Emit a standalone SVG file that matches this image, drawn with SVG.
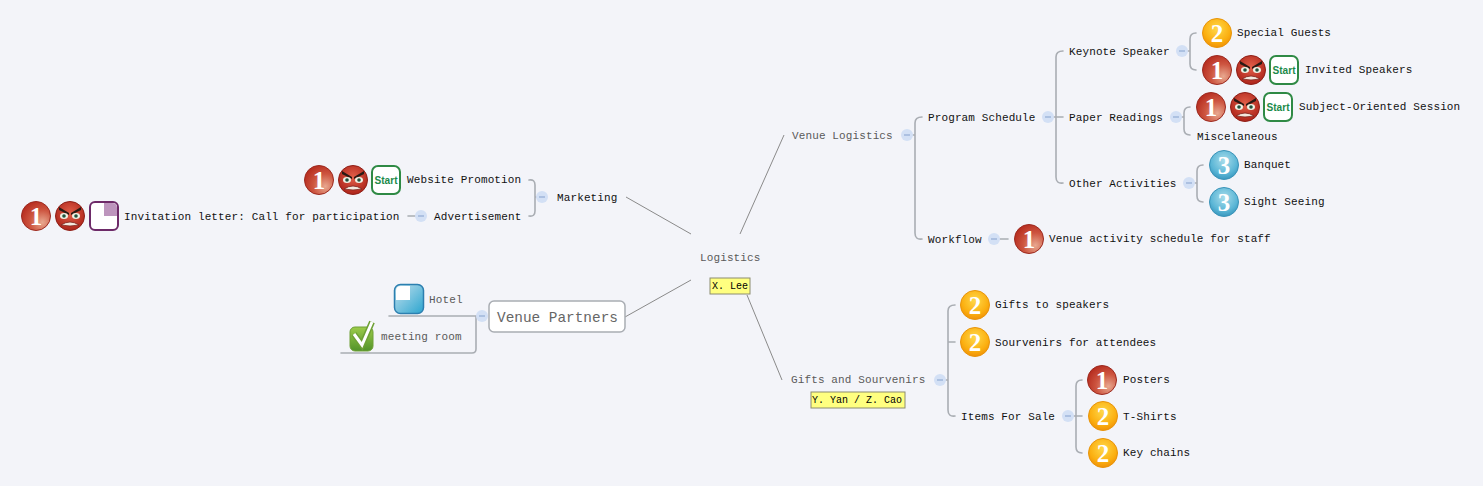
<svg xmlns="http://www.w3.org/2000/svg" width="1483" height="486" viewBox="0 0 1483 486">
<style>
text{font-family:"Liberation Mono","DejaVu Sans Mono",monospace;font-size:11px;letter-spacing:.12px;fill:#111}
.g{fill:#5a5a5a}
.big{font-size:14.4px;fill:#666;letter-spacing:0}
.sm{font-size:10px;letter-spacing:0;fill:#000}
.ln{fill:none;stroke:#a9adb3;stroke-width:1.6;stroke-linecap:round}
.th{fill:none;stroke:#8a8a8a;stroke-width:1}
.nt{fill:#ffff80;stroke:#8c8c70;stroke-width:1}
.num{font-family:"Liberation Serif",serif;font-weight:bold;font-size:25px;letter-spacing:0;fill:#fff;text-anchor:middle}
.st{font-family:"Liberation Sans",sans-serif;font-weight:bold;font-size:11px;letter-spacing:0;fill:#1d8a4a;text-anchor:middle}
</style>
<defs>
<radialGradient id="r1" cx=".72" cy=".72" r=".85"><stop offset="0" stop-color="#e8a88f"/><stop offset=".5" stop-color="#cd5540"/><stop offset="1" stop-color="#b3261a"/></radialGradient>
<radialGradient id="r2" cx=".5" cy=".35" r=".7"><stop offset="0" stop-color="#ffd84a"/><stop offset=".65" stop-color="#fbaf10"/><stop offset="1" stop-color="#ee8a05"/></radialGradient>
<radialGradient id="r3" cx=".5" cy=".35" r=".7"><stop offset="0" stop-color="#a8dcea"/><stop offset=".65" stop-color="#5bb6d6"/><stop offset="1" stop-color="#2f8fb8"/></radialGradient>
<radialGradient id="rA" cx=".5" cy=".4" r=".65"><stop offset="0" stop-color="#e2604a"/><stop offset="1" stop-color="#a91f16"/></radialGradient>
<linearGradient id="qb" x1="0" y1="0" x2="1" y2="1"><stop offset="0" stop-color="#c5e1ee"/><stop offset="1" stop-color="#2ba5cf"/></linearGradient>
<linearGradient id="cg" x1="0" y1="0" x2="0" y2="1"><stop offset="0" stop-color="#9ccb4a"/><stop offset="1" stop-color="#52932a"/></linearGradient>
<g id="c1"><circle r="14.5" fill="url(#r1)" stroke="#9c2a20"/></g>
<g id="c2"><circle r="14.5" fill="url(#r2)" stroke="#e8940a"/></g>
<g id="c3"><circle r="14.5" fill="url(#r3)" stroke="#3a93b8"/></g>
<g id="angry">
<circle r="14.5" fill="url(#rA)" stroke="#8f2018"/>
<path d="M-11-9 L-1-3 L-1-1 L-11-6Z M11-9 L1-3 L1-1 L11-6Z" fill="#2a1a14"/>
<ellipse cx="-6" cy="0" rx="4" ry="3" fill="#eef3e6"/><ellipse cx="6" cy="0" rx="4" ry="3" fill="#eef3e6"/>
<circle cx="-6" cy="0" r="1.8" fill="#20523e"/><circle cx="6" cy="0" r="1.8" fill="#20523e"/>
<path d="M-9 9 Q0 3 9 9 Q0 11-9 9Z" fill="#f3e9df" stroke="#7a2018" stroke-width=".8"/>
</g>
<g id="start"><rect x="-14" y="-14" width="28" height="28" rx="6" fill="#fff" stroke="#2f8a45" stroke-width="2"/><text class="st" y="4" textLength="23" lengthAdjust="spacingAndGlyphs">Start</text></g>
<g id="note"><rect x="-14" y="-14" width="28" height="28" rx="5" fill="#fff" stroke="#6d2a68" stroke-width="2"/><path d="M0-13 H8 Q13-13 13-8 V0 H0Z" fill="#bd95bd"/></g>
<g id="quarter"><rect x="-14.500" y="-14.500" width="29" height="29" rx="6" fill="url(#qb)" stroke="#2c7fb0" stroke-width="1.500"/><path d="M-13-8 Q-13-13-8-13 H1 V1 H-13Z" fill="#fff"/></g>
<g id="check"><rect x="-11" y="-10" width="23" height="24" rx="5" fill="url(#cg)" stroke="#6ea036"/><path d="M-7-3 L1 8 L11-15" fill="none" stroke="#6ea036" stroke-width="6"/><path d="M-7-3 L1 8 L11-15" fill="none" stroke="#fff" stroke-width="3"/></g>
<g id="tg"><circle r="6" fill="#d3e0f5"/><path d="M-3 0 H3" stroke="#93abd4" stroke-width="1.200"/></g>
</defs>
<rect width="1483" height="486" fill="#f3f4f9"/>
<g id="connectors">
<path class="th" d="M626 197 L691 234 M740 234 L784 135 M625 317 L691 280 M747 295 L782 380"/>
<path class="ln" d="M529 180 Q535 179 535 185 V211 Q535 217 529 216 M535 197 H542"/>
<path class="ln" d="M408 216 H421"/>
<path class="ln" d="M389 316 H476 M341 353 H472 Q476 353 476 349 V316 H482"/>
<path class="ln" d="M922 117 Q915 117 915 123 V233 Q915 240 922 239 M907 135 H915"/>
<path class="ln" d="M1048 117 H1063 M1063 51 Q1056 51 1056 57 V177 Q1056 184 1063 183"/>
<path class="ln" d="M1196 33 Q1190 33 1190 39 V64 Q1190 70 1196 70 M1182 51 H1190"/>
<path class="ln" d="M1190 107 Q1184 107 1184 113 V129 Q1184 135 1190 135 M1176 117 H1184"/>
<path class="ln" d="M1203 165 Q1197 165 1197 171 V196 Q1197 202 1203 202 M1189 183 H1197"/>
<path class="ln" d="M994 239 H1008"/>
<path class="ln" d="M955 305 Q948 305 948 311 V410 Q948 417 955 416 M948 342 H955 M940 380 H948"/>
<path class="ln" d="M1082 380 Q1076 380 1076 386 V447 Q1076 453 1082 453 M1068 416 H1082"/>
<g id="toggles">
<use href="#tg" x="542" y="197"/><use href="#tg" x="421" y="216"/><use href="#tg" x="482" y="316"/>
<use href="#tg" x="907" y="135"/><use href="#tg" x="1048" y="117"/><use href="#tg" x="1182" y="51"/>
<use href="#tg" x="1176" y="117"/><use href="#tg" x="1189" y="183"/><use href="#tg" x="994" y="239"/>
<use href="#tg" x="940" y="380"/><use href="#tg" x="1068" y="416"/>
</g>
</g>
<g id="n-root"><text class="g" x="700" y="261">Logistics</text><rect class="nt" x="710" y="278" width="40" height="16"/><text class="sm" x="712" y="289">X. Lee</text></g>
<g id="n-marketing"><text x="557" y="201">Marketing</text></g>
<g id="n-website"><use href="#c1" x="319" y="180"/><text class="num" x="319" y="189">1</text><use href="#angry" x="353" y="180"/><use href="#start" x="386" y="180"/><text x="407" y="183">Website Promotion</text></g>
<g id="n-advert"><text x="434" y="220">Advertisement</text></g>
<g id="n-invite"><use href="#c1" x="36" y="216"/><text class="num" x="36" y="225">1</text><use href="#angry" x="70" y="216"/><use href="#note" x="104" y="216"/><text x="124" y="220">Invitation letter: Call for participation</text></g>
<g id="n-partners"><rect x="489" y="301" width="136" height="31" rx="5" fill="#fff" stroke="#a9adb3" stroke-width="1.500"/><text class="big" x="497" y="322">Venue Partners</text></g>
<g id="n-hotel"><use href="#quarter" x="409" y="299"/><text class="g" x="429" y="303">Hotel</text></g>
<g id="n-room"><use href="#check" x="361" y="337"/><text class="g" x="381" y="340">meeting room</text></g>
<g id="n-venue"><text class="g" x="792" y="139">Venue Logistics</text></g>
<g id="n-program"><text x="928" y="121">Program Schedule</text></g>
<g id="n-keynote"><text x="1069" y="55">Keynote Speaker</text></g>
<g id="n-guests"><use href="#c2" x="1217" y="33"/><text class="num" x="1217" y="42">2</text><text x="1237" y="36">Special Guests</text></g>
<g id="n-invited"><use href="#c1" x="1217" y="70"/><text class="num" x="1217" y="79">1</text><use href="#angry" x="1251" y="70"/><use href="#start" x="1284" y="70"/><text x="1305" y="73">Invited Speakers</text></g>
<g id="n-paper"><text x="1069" y="121">Paper Readings</text></g>
<g id="n-subject"><use href="#c1" x="1211" y="107"/><text class="num" x="1211" y="116">1</text><use href="#angry" x="1245" y="107"/><use href="#start" x="1278" y="107"/><text x="1299" y="110">Subject-Oriented Session</text></g>
<g id="n-misc"><text x="1197" y="140">Miscelaneous</text></g>
<g id="n-other"><text x="1069" y="187">Other Activities</text></g>
<g id="n-banquet"><use href="#c3" x="1224" y="165"/><text class="num" x="1224" y="174">3</text><text x="1244" y="168">Banquet</text></g>
<g id="n-sight"><use href="#c3" x="1224" y="202"/><text class="num" x="1224" y="211">3</text><text x="1244" y="205">Sight Seeing</text></g>
<g id="n-workflow"><text x="928" y="243">Workflow</text></g>
<g id="n-schedule"><use href="#c1" x="1029" y="239"/><text class="num" x="1029" y="248">1</text><text x="1049" y="242">Venue activity schedule for staff</text></g>
<g id="n-gifts"><text class="g" x="791" y="383">Gifts and Sourvenirs</text><rect class="nt" x="811" y="392" width="94" height="16"/><text class="sm" x="812" y="403">Y. Yan / Z. Cao</text></g>
<g id="n-giftsp"><use href="#c2" x="975" y="305"/><text class="num" x="975" y="314">2</text><text x="995" y="308">Gifts to speakers</text></g>
<g id="n-sourv"><use href="#c2" x="975" y="342"/><text class="num" x="975" y="351">2</text><text x="995" y="346">Sourvenirs for attendees</text></g>
<g id="n-items"><text x="961" y="420">Items For Sale</text></g>
<g id="n-posters"><use href="#c1" x="1102" y="380"/><text class="num" x="1102" y="389">1</text><text x="1123" y="383">Posters</text></g>
<g id="n-tshirts"><use href="#c2" x="1103" y="416"/><text class="num" x="1103" y="425">2</text><text x="1123" y="420">T-Shirts</text></g>
<g id="n-keys"><use href="#c2" x="1103" y="453"/><text class="num" x="1103" y="462">2</text><text x="1123" y="456">Key chains</text></g>
</svg>
